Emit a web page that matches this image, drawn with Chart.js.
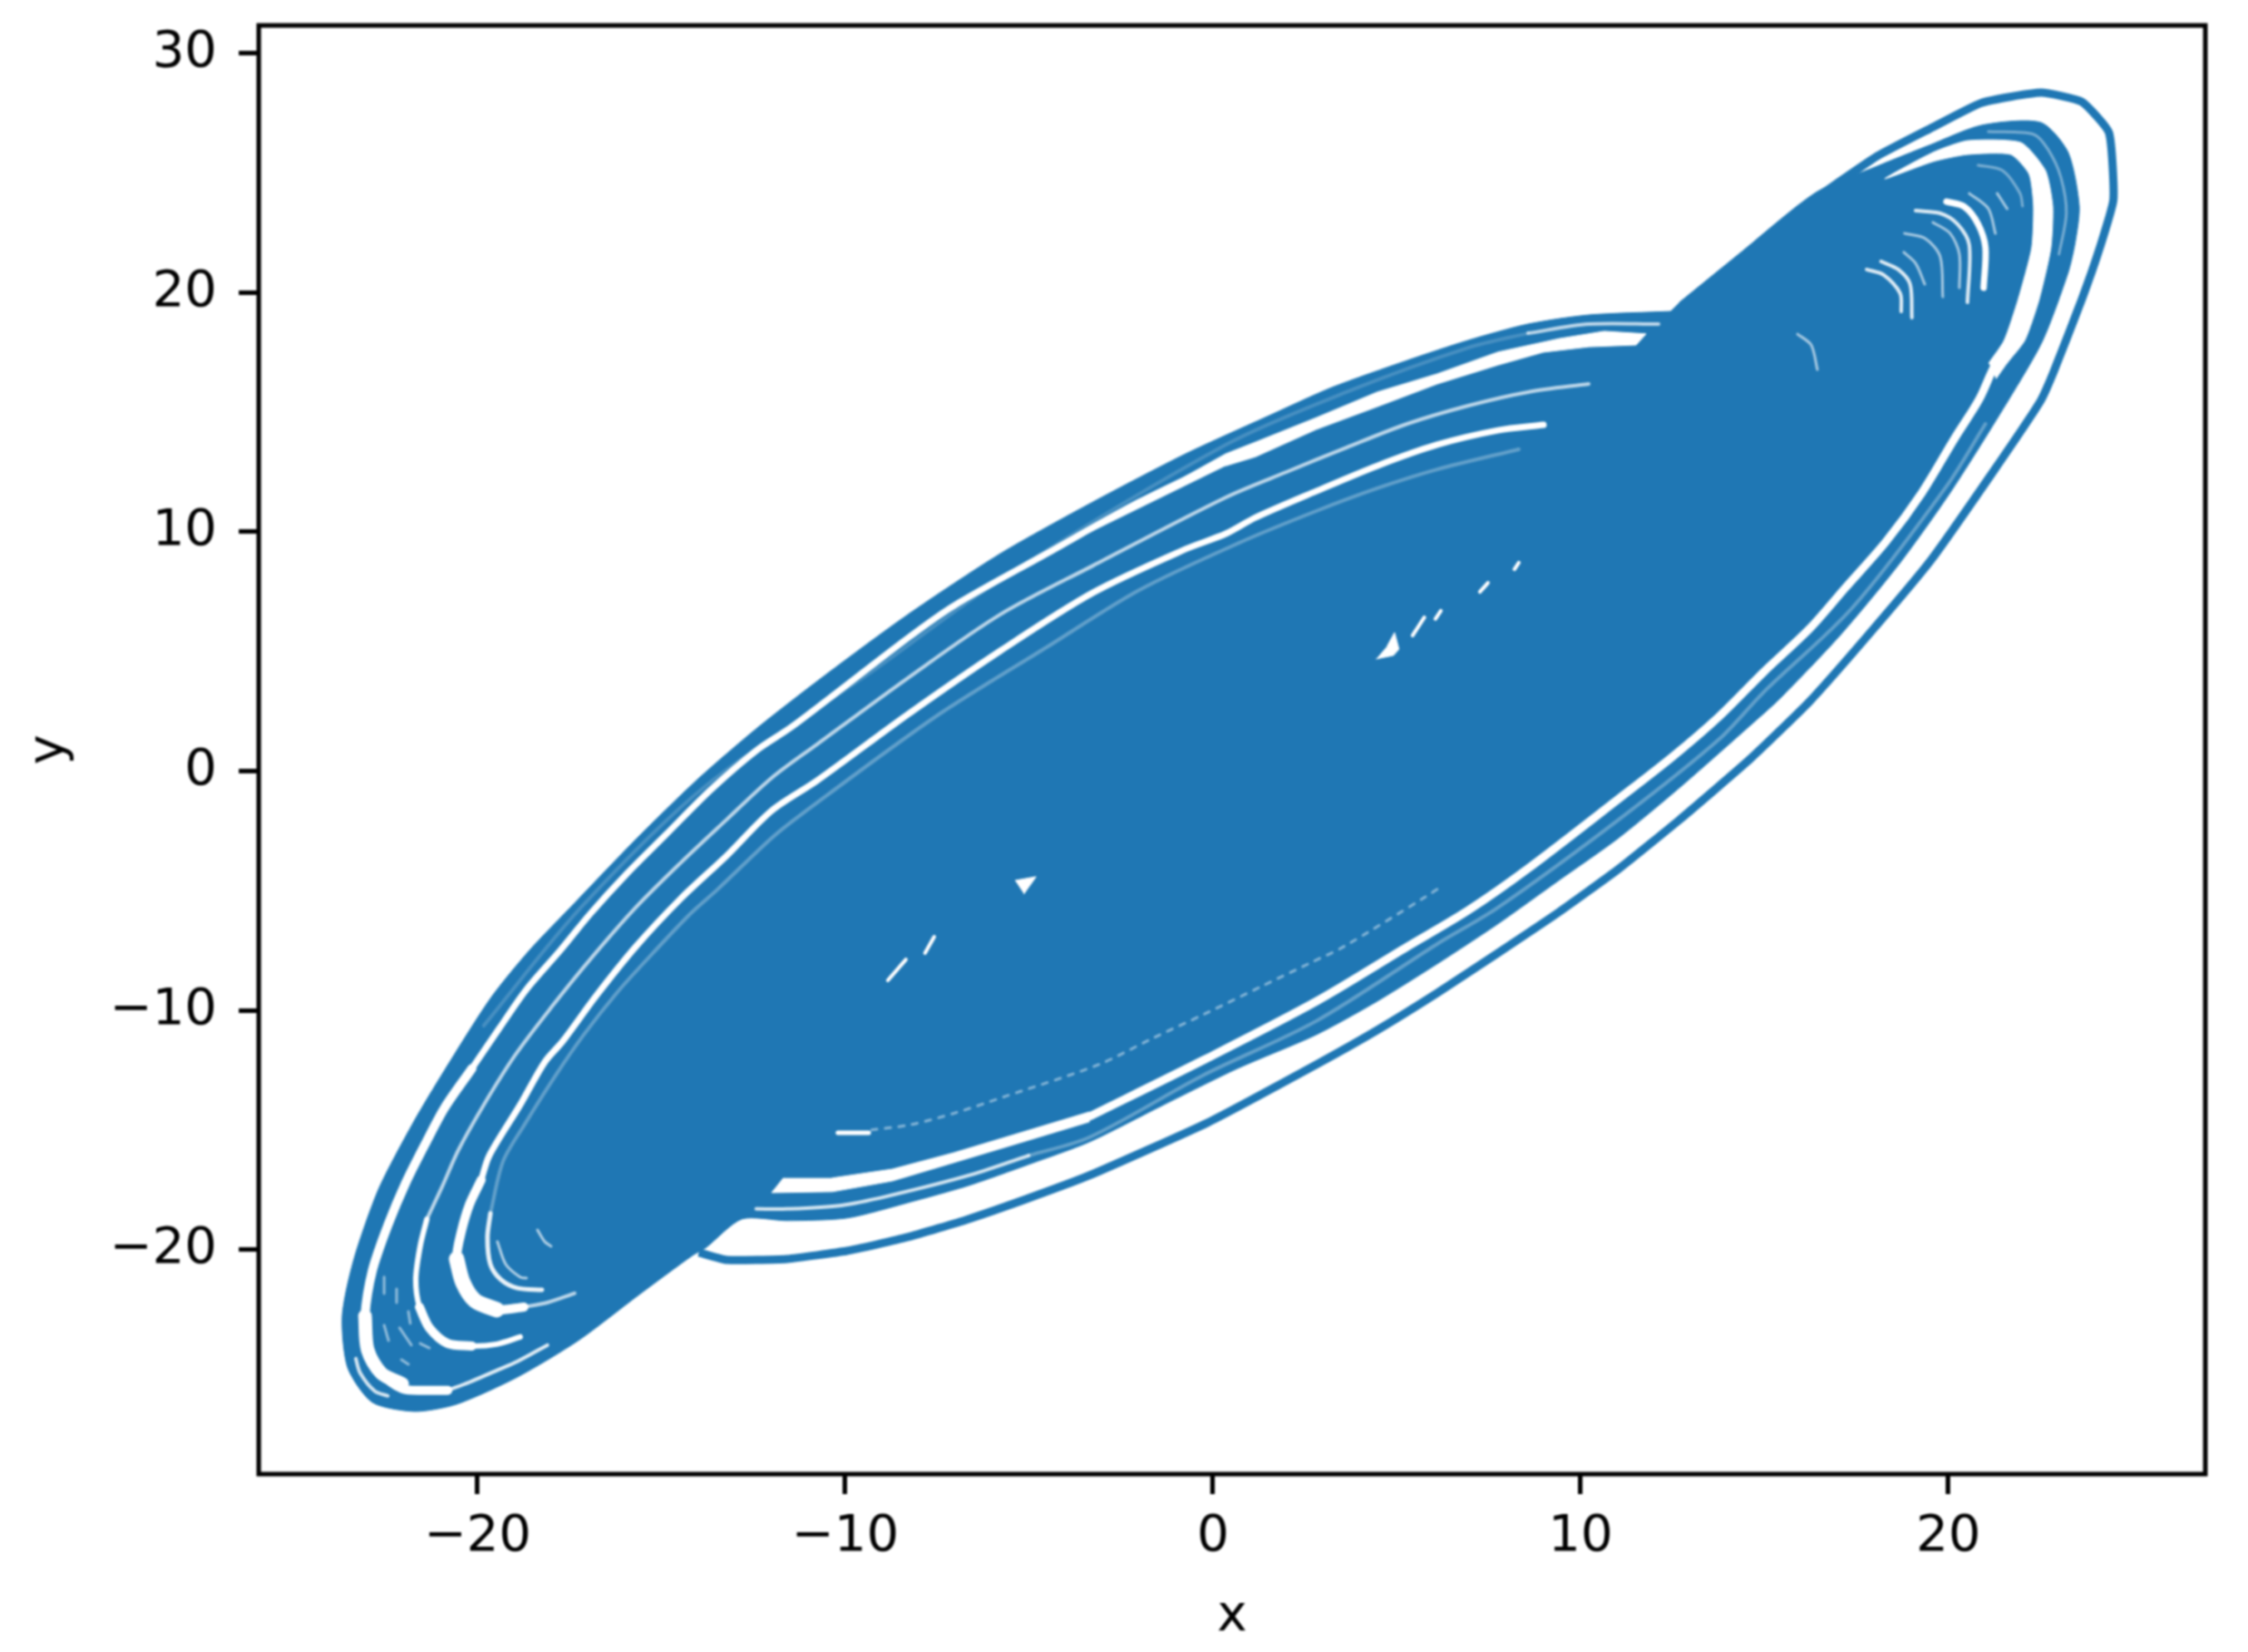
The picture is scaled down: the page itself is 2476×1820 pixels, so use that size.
<!DOCTYPE html>
<html>
<head>
<meta charset="utf-8">
<title>x-y trajectory</title>
<script src="https://cdn.jsdelivr.net/npm/chart.js@4/dist/chart.umd.min.js"></script>
<style>
  html, body { margin: 0; padding: 0; background: #fff; }
  canvas { display: block; filter: blur(0.8px); }
</style>
</head>
<body>
<canvas id="myChart" width="2476" height="1820"></canvas>
<script>
// Axis ticks
const xTicks = [-20, -10, 0, 10, 20];
const yTicks = [-20, -10, 0, 10, 20, 30];

// Dense part of the trajectory, read as one outline
const bodyX = [12.69, 14.30, 16.40, 18.07, 19.48, 20.91, 22.52, 23.26, 23.56, 23.45, 23.26, 22.57, 21.65, 20.10, 18.69, 17.06, 15.41, 14.59, 12.69, 11.04, 9.41, 7.75, 6.10, 4.47, 2.81, 0.67, -1.38, -3.36, -5.01, -6.64, -8.30, -9.95, -11.58, -12.81, -13.80, -14.15, -15.63, -17.26, -18.91, -20.57, -21.70, -22.86, -23.53, -23.68, -23.36, -22.69, -21.75, -20.91, -19.65, -18.59, -17.36, -15.70, -14.05, -12.42, -10.52, -8.30, -5.78, -3.26, -0.74, 1.58, 3.23, 5.28, 6.94, 8.57, 10.22, 12.44];
const bodyY = [19.59, 21.60, 24.18, 25.28, 26.15, 26.99, 27.10, 25.85, 23.61, 22.09, 20.84, 18.00, 15.54, 11.75, 8.71, 5.68, 3.02, 1.88, -0.69, -2.78, -4.56, -6.38, -8.05, -9.61, -11.01, -12.42, -13.97, -15.49, -16.43, -17.31, -18.03, -18.67, -18.78, -18.71, -19.92, -20.23, -21.90, -23.79, -25.31, -26.45, -26.75, -26.37, -24.93, -22.77, -20.38, -17.46, -14.69, -12.53, -9.50, -7.49, -5.51, -2.86, -0.39, 1.77, 4.04, 6.54, 9.09, 11.25, 13.26, 14.89, 16.03, 17.16, 18.00, 18.68, 19.06, 19.21];

// Outermost single loop
const outerX = [16.40, 18.07, 19.48, 20.91, 22.52, 23.63, 24.37, 24.49, 24.12, 23.63, 22.86, 22.49, 21.16, 19.53, 17.88, 16.22, 14.59, 12.69, 11.04, 9.41, 7.75, 6.10, 4.47, 2.81, -0.15, -3.36, -5.01, -6.64, -8.30, -9.95, -11.58, -13.23, -13.98];
const outerY = [23.95, 25.70, 26.83, 27.93, 28.35, 27.97, 26.68, 23.88, 21.87, 19.71, 16.67, 15.42, 12.38, 8.82, 5.79, 2.90, 0.48, -2.03, -4.08, -5.89, -7.60, -9.27, -10.82, -12.26, -14.69, -16.89, -17.84, -18.71, -19.47, -20.04, -20.38, -20.42, -20.11];

// Empty bands between the loops, lower side
const lowWedgeX = [-11.68, -12.0, -10.35, -8.72, -7.06, -5.41, -3.36, -3.36, -5.41, -7.06, -8.72, -10.35];
const lowWedgeY = [-17.00, -17.61, -17.57, -17.12, -16.36, -15.60, -14.65, -14.24, -15.19, -15.95, -16.63, -17.00];
const lowGapX = [-3.36, -0.27, 2.81, 5.28, 6.94, 8.57, 11.04, 12.52, 13.75, 14.99, 16.22, 17.21, 18.30, 19.28, 20.17, 20.84, 21.30, 21.80];
const lowGapY = [-14.43, -12.08, -9.62, -7.34, -5.82, -4.07, -1.15, 0.63, 2.26, 4.16, 5.94, 7.68, 9.58, 11.63, 13.90, 15.54, 17.05, 18.00];
const crownX = [21.30, 21.60, 22.08, 22.47, 22.79, 22.84, 22.64, 21.98, 20.52, 19.58, 18.27, 19.58, 20.52, 21.70, 22.20, 22.32, 22.27, 21.90, 21.52, 21.10];
const crownY = [16.40, 17.05, 18.00, 19.71, 21.87, 23.61, 25.10, 26.26, 26.34, 25.85, 24.75, 25.47, 25.77, 25.77, 24.94, 23.61, 21.87, 19.71, 18.00, 17.05];
const bandLineX = [-5.01, -3.36, -0.27, 2.81, 6.10, 7.75, 11.04, 13.75, 14.99, 17.38, 19.93, 21.01];
const bandLineY = [-16.06, -15.30, -12.71, -10.44, -7.22, -5.70, -2.02, 1.31, 3.32, 6.81, 11.86, 14.51];
const bandLensX = [-12.42, -11.58, -10.10, -8.86, -6.64, -5.01];
const bandLensY = [-18.29, -18.29, -18.14, -17.76, -16.89, -16.06];

// Empty bands, upper side and left lobe
const topWedgeX = [-4.52, 0.35, 1.16, 2.81, 4.47, 6.10, 7.75, 9.41, 10.64, 11.78, 11.51, 10.22, 8.99, 7.75, 6.10, 4.47, 2.81, 1.16, 0.35];
const topWedgeY = [9.09, 13.26, 13.75, 14.77, 15.84, 16.60, 17.51, 18.07, 18.38, 18.27, 17.81, 17.73, 17.51, 16.97, 16.18, 15.23, 14.28, 13.14, 12.76];
const gapOneX = [0.35, -2.0, -4.52, -7.04, -8.30, -11.43, -12.42, -13.65, -14.89, -15.95, -16.94, -17.75, -18.67, -19.41, -20.15];
const gapOneY = [12.99, 11.25, 9.09, 6.92, 5.56, 1.88, 0.86, -0.77, -2.67, -4.30, -5.97, -7.49, -9.12, -10.75, -12.42];
const gapOneLobeX = [-20.15, -20.89, -21.38, -21.95, -22.44, -22.86, -23.06, -22.99, -22.62, -22.05, -21.38, -20.81];
const gapOneLobeY = [-12.42, -14.05, -15.45, -17.19, -18.98, -20.87, -22.77, -24.17, -25.15, -25.80, -25.87, -25.87];
const gapOneTurnX = [-23.06, -22.99, -22.62, -22.05];
const gapOneTurnY = [-22.77, -24.17, -25.15, -25.60];
const gapOneTailX = [-20.81, -20.22, -19.48, -18.91, -18.10];
const gapOneTailY = [-25.87, -25.53, -25.04, -24.66, -23.98];
const gapTwoX = [10.22, 8.57, 6.94, 5.28, 3.63, 2.0, 0.35, -3.26, -5.78, -8.30, -10.77, -12.0, -13.23, -14.47, -15.70, -16.94, -18.0, -18.99, -19.83, -20.52, -20.96, -21.38];
const gapTwoY = [16.18, 15.84, 15.27, 14.51, 13.52, 12.50, 11.44, 8.59, 6.55, 3.89, 1.12, -0.28, -2.03, -3.82, -5.70, -7.87, -9.88, -11.89, -13.94, -15.83, -17.35, -18.72];
const gapTwoLobeX = [-21.38, -21.56, -21.68, -21.58, -21.31, -20.81, -20.15, -19.48, -18.84];
const gapTwoLobeY = [-18.72, -19.85, -21.24, -22.39, -23.26, -23.91, -24.02, -23.94, -23.64];
const gapTwoTurnX = [-21.58, -21.31, -20.81, -20.15];
const gapTwoTurnY = [-22.39, -23.26, -23.91, -24.02];
const gapThreeX = [8.99, 7.75, 6.10, 4.47, 2.81, 1.16, 0.35, -0.74, -3.26, -5.78, -8.30, -10.77, -12.0, -13.23, -14.47, -15.70, -16.77, -17.68, -18.17, -18.84, -19.68, -19.90];
const gapThreeY = [14.47, 14.24, 13.64, 12.76, 11.70, 10.60, 9.92, 9.28, 7.46, 5.03, 2.37, -0.40, -1.65, -3.54, -5.32, -7.34, -9.38, -11.28, -12.15, -13.94, -16.06, -17.08];
const gapThreeLobeX = [-19.90, -20.22, -20.44, -20.57, -20.40, -20.07, -19.48, -18.74];
const gapThreeLobeY = [-17.08, -18.11, -19.24, -20.38, -21.36, -22.12, -22.50, -22.39];
const gapThreeTurnX = [-20.57, -20.40, -20.07, -19.48];
const gapThreeTurnY = [-20.38, -21.36, -22.12, -22.50];
const gapThreeTailX = [-18.74, -18.10, -17.36];
const gapThreeTailY = [-22.39, -22.20, -21.82];
const gapFourX = [8.32, 6.10, 4.47, 2.81, 0.77, -2.0, -4.52, -7.56, -11.19, -12.0, -13.48, -14.22, -15.46, -16.20, -17.11, -17.85, -18.74, -19.31, -19.65];
const gapFourY = [13.45, 12.61, 11.82, 10.87, 9.58, 7.57, 5.18, 2.26, -1.80, -2.79, -4.95, -5.97, -7.98, -9.24, -11.01, -12.65, -14.81, -16.32, -18.48];
const gapFourLobeX = [-19.65, -19.73, -19.65, -19.36, -18.91, -18.25];
const gapFourLobeY = [-18.48, -19.47, -20.61, -21.25, -21.60, -21.67];
const rimBrightX = [12.12, 10.22, 8.57];
const rimBrightY = [18.68, 18.68, 18.30];
const rimFaintX = [8.57, 6.94, 3.63, 0.35, -5.83, -9.28, -13.80, -17.19, -19.83];
const rimFaintY = [18.30, 17.69, 15.84, 13.64, 7.95, 4.16, -0.62, -5.70, -10.63];
const bottomSlitX = [-23.31, -23.19, -22.79, -22.44];
const bottomSlitY = [-24.55, -25.15, -25.91, -26.10];

// Arcs in the right lobe, null breaks the line
const arcStrongX = [19.95, 20.44, 20.81, 21.01, 20.96];
const arcStrongY = [23.80, 23.58, 22.86, 21.87, 20.20];
const arcMidX = [19.11, 19.78, 20.25, 20.57, 20.52, null, 18.17, 18.64, 18.96, 19.01, null, 17.78, 18.25, 18.69, 18.72];
const arcMidY = [23.42, 23.31, 22.86, 21.98, 19.59, null, 21.30, 20.96, 20.35, 18.95, null, 20.96, 20.73, 19.97, 19.21];
const arcSoftX = [19.58, 20.05, 20.30, 20.30, null, 18.81, 19.38, 19.78, 19.85, null, 18.79, 19.11, 19.36, null, 15.90, 16.27, 16.44, null, 20.57, 21.09, 21.28, null, 21.33, 21.60];
const arcSoftY = [22.93, 22.47, 21.60, 20.20, null, 22.47, 22.25, 21.49, 19.82, null, 21.68, 21.22, 20.35, null, 18.26, 17.81, 16.78, null, 24.14, 23.50, 22.47, null, 24.14, 23.50];
const arcFaintX = [20.81, 21.48, 21.95, 22.02, null, 21.09, 22.32, 22.72, 23.06, 23.21, 23.01];
const arcFaintY = [25.32, 25.09, 24.14, 23.61, null, 26.72, 26.61, 25.96, 24.82, 23.31, 21.60];

// Small openings in the core
const holeUpperX = [4.44, 4.91, 5.06, 4.94, 4.74];
const holeUpperY = [4.69, 4.84, 5.10, 5.79, 5.23];
const holeLowerX = [-5.38, -4.81, -5.14];
const holeLowerY = [-4.57, -4.41, -5.13];
const slitsX = [5.43, 5.75, null, 6.05, 6.20, null, 7.26, 7.48, null, 8.20, 8.32, null, -7.83, -7.58, null, -8.84, -8.35];
const slitsY = [5.67, 6.43, null, 6.36, 6.70, null, 7.49, 7.87, null, 8.44, 8.71, null, -7.60, -6.92, null, -8.74, -7.87];
const lowArcX = [-10.20, -9.36];
const lowArcY = [-15.11, -15.11];
const lowDotsX = [-9.28, -8.22, -6.99, -5.65, -3.11, -1.60, -0.22, 1.31, 2.69, 3.56, 5.78, 6.27];
const lowDotsY = [-14.99, -14.77, -14.27, -13.59, -12.26, -11.13, -10.14, -9.00, -7.98, -7.33, -5.25, -4.76];
const lobeArcsX = [-19.46, -19.23, -18.84, -18.67, null, -18.37, -18.17, -18.0];
const lobeArcsY = [-19.66, -20.61, -21.14, -21.18, null, -19.17, -19.66, -19.85];
const lobeSpecksX = [-22.54, -22.54, null, -22.20, -22.20, null, -21.88, -21.83, null, -22.54, -22.42, null, -22.12, -21.80, null, -21.56, -21.31, null, -22.07, -21.88];
const lobeSpecksY = [-21.13, -21.82, null, -21.63, -22.20, null, -22.58, -23.07, null, -23.15, -23.79, null, -23.26, -23.98, null, -23.91, -24.10, null, -24.59, -24.78];

const blue = '#1f77b4';
const white = a => `rgba(255,255,255,${a})`;

function toPoints(xs, ys) {
    return xs.map((x, i) => ({x: x, y: ys[i]}));
}

function line(xs, ys, color, width, extra) {
    return {data: toPoints(xs, ys), borderColor: color, borderWidth: width, tension: 0.3, ...extra};
}

function shape(xs, ys, color, tension) {
    return {data: toPoints(xs, ys), borderColor: color, backgroundColor: color, borderWidth: 1, fill: 'shape', tension: tension || 0};
}

// later entries are painted over earlier ones
const layers = [
    shape(bodyX, bodyY, blue, 0.25),
    line(outerX, outerY, blue, 9, {tension: 0.15, borderCapStyle: 'butt'}),
    shape(lowWedgeX, lowWedgeY, '#fff'),
    line(lowGapX, lowGapY, '#fff', 9),
    shape(crownX, crownY, '#fff', 0.2),
    line(bandLineX, bandLineY, white(0.3), 4),
    line(bandLensX, bandLensY, white(0.8), 4),
    shape(topWedgeX, topWedgeY, '#fff'),
    line(gapOneX, gapOneY, '#fff', 7),
    line(gapOneLobeX, gapOneLobeY, '#fff', 10),
    line(gapOneTurnX, gapOneTurnY, '#fff', 15),
    line(gapOneTailX, gapOneTailY, white(0.85), 4),
    line(gapTwoX, gapTwoY, white(0.7), 4),
    line(gapTwoLobeX, gapTwoLobeY, '#fff', 6),
    line(gapTwoTurnX, gapTwoTurnY, '#fff', 10),
    line(gapThreeX, gapThreeY, '#fff', 7),
    line(gapThreeLobeX, gapThreeLobeY, '#fff', 10),
    line(gapThreeTurnX, gapThreeTurnY, '#fff', 17),
    line(gapThreeTailX, gapThreeTailY, white(0.7), 4),
    line(gapFourX, gapFourY, white(0.3), 4),
    line(gapFourLobeX, gapFourLobeY, white(0.9), 5),
    line(rimBrightX, rimBrightY, white(0.7), 4),
    line(rimFaintX, rimFaintY, white(0.18), 4),
    line(bottomSlitX, bottomSlitY, white(0.8), 4),
    line(arcStrongX, arcStrongY, '#fff', 7),
    line(arcMidX, arcMidY, white(0.85), 4),
    line(arcSoftX, arcSoftY, white(0.6), 3),
    line(arcFaintX, arcFaintY, white(0.4), 3),
    shape(holeUpperX, holeUpperY, '#fff'),
    shape(holeLowerX, holeLowerY, '#fff'),
    line(slitsX, slitsY, '#fff', 4, {tension: 0}),
    line(lowArcX, lowArcY, '#fff', 5, {tension: 0}),
    line(lowDotsX, lowDotsY, white(0.45), 3, {borderDash: [6, 9]}),
    line(lobeArcsX, lobeArcsY, white(0.65), 3),
    line(lobeSpecksX, lobeSpecksY, white(0.5), 3, {tension: 0})
];
layers.forEach((layer, i) => { layer.order = -i; });

// Box around the plot
const frame = {
    id: 'frame',
    afterDraw(chart) {
        const {ctx, chartArea} = chart;
        ctx.save();
        ctx.strokeStyle = '#000';
        ctx.lineWidth = 5;
        ctx.strokeRect(chartArea.left, chartArea.top, chartArea.right - chartArea.left, chartArea.bottom - chartArea.top);
        ctx.restore();
    }
};

const tickFont = {family: 'DejaVu Sans', size: 56};

function axis(min, max, ticks, title, titlePadding, tickPadding, size) {
    return {
        type: 'linear',
        min: min,
        max: max,
        afterBuildTicks: scale => { scale.ticks = ticks.map(v => ({value: v})); },
        afterFit: scale => {
            if (scale.isHorizontal()) {
                scale.height = size;
            } else {
                scale.width = size;
            }
            // keep the plot box where it is, labels must not push it
            scale.paddingTop = scale.paddingBottom = scale.paddingLeft = scale.paddingRight = 0;
        },
        border: {display: false},
        grid: {drawOnChartArea: false, drawTicks: true, tickLength: 22, tickColor: '#000', tickWidth: 5},
        ticks: {
            font: tickFont,
            color: '#000',
            padding: tickPadding,
            autoSkip: false,
            maxRotation: 0,
            callback: v => String(v).replace('-', '\u2212')
        },
        title: {display: true, text: title, font: tickFont, color: '#000', padding: titlePadding}
    };
}

new Chart(document.getElementById('myChart'), {
    type: 'line',
    data: {datasets: layers},
    plugins: [frame],
    options: {
        responsive: false,
        animation: false,
        events: [],
        layout: {padding: {top: 28, right: 47, left: 0, bottom: 0}},
        elements: {
            point: {radius: 0},
            line: {borderJoinStyle: 'round', borderCapStyle: 'round', fill: false}
        },
        plugins: {legend: {display: false}, tooltip: {enabled: false}},
        scales: {
            x: axis(-25.95, 26.99, xTicks, 'x', {top: 0, bottom: 5}, 14, 196),
            y: axis(-29.37, 31.16, yTicks, 'y', {top: 21, bottom: 0}, 24, 285)
        }
    }
});
</script>
</body>
</html>
